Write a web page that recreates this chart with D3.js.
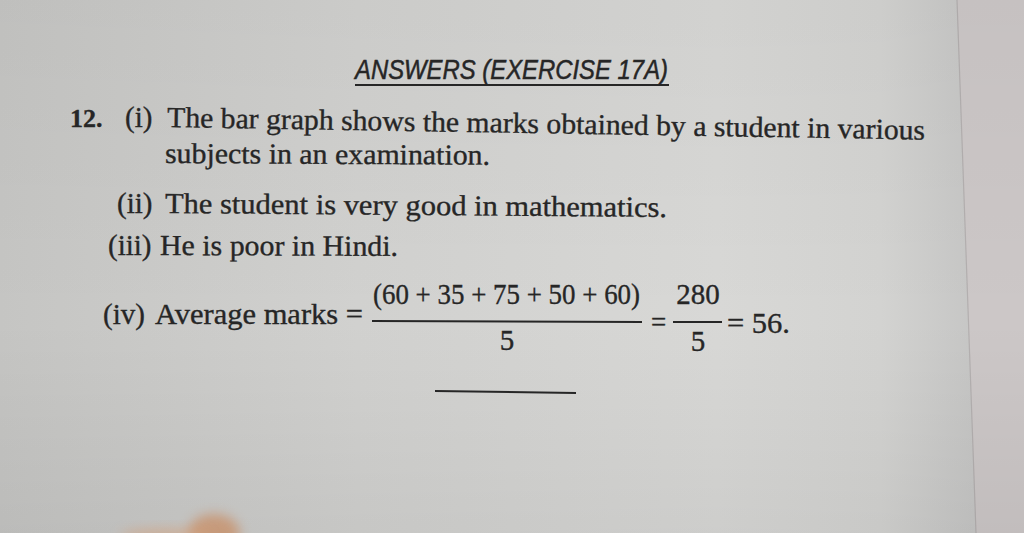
<!DOCTYPE html>
<html>
<head>
<meta charset="utf-8">
<script src="https://cdn.jsdelivr.net/npm/d3@7"></script>
<style>
  html, body { margin: 0; padding: 0; background: #d4d4d4; }
  svg { display: block; }
</style>
</head>
<body>
<div id="page"></div>
<script>
// values
const marks = [60, 35, 75, 50, 60]
const subjectCount = 5
const total = 280
const average = 56

const title = 'ANSWERS (EXERCISE 17A)'
const lines = [
  { label: '12.', sub: '(i)', text: 'The bar graph shows the marks obtained by a student in various' },
  { label: '', sub: '', text: 'subjects in an examination.' },
  { label: '', sub: '(ii)', text: 'The student is very good in mathematics.' },
  { label: '', sub: '(iii)', text: 'He is poor in Hindi.' }
]

const width = 1024
const height = 533
const ink = '#262626'
const serif = '"Liberation Serif", "DejaVu Serif", serif'

const svg = d3.select('#page').append('svg')
  .attr('width', width)
  .attr('height', height)

// paper shading: darker on the left, brighter in the middle, shadow near the fold
const defs = svg.append('defs')
const grad = defs.append('linearGradient').attr('id', 'paper')
grad.selectAll('stop')
  .data([
    { o: 0, c: '#c5c5c3' },
    { o: 0.35, c: '#d1d1cf' },
    { o: 0.7, c: '#d8d8d6' },
    { o: 0.86, c: '#d3d3d1' },
    { o: 0.95, c: '#c6c6c5' },
    { o: 1, c: '#c6c6c5' }
  ])
  .join('stop')
  .attr('offset', d => d.o)
  .attr('stop-color', d => d.c)
const vgrad = defs.append('linearGradient').attr('id', 'shade')
  .attr('x1', 0).attr('x2', 0).attr('y1', 0).attr('y2', 1)
vgrad.append('stop').attr('offset', 0).attr('stop-color', '#000').attr('stop-opacity', 0.03)
vgrad.append('stop').attr('offset', 0.6).attr('stop-color', '#000').attr('stop-opacity', 0)
vgrad.append('stop').attr('offset', 1).attr('stop-color', '#000').attr('stop-opacity', 0.05)
const blur = defs.append('filter').attr('id', 'blur')
  .attr('x', '-50%').attr('y', '-50%').attr('width', '200%').attr('height', '200%')
blur.append('feGaussianBlur').attr('stdDeviation', 6)

svg.append('rect').attr('width', width).attr('height', height).attr('fill', 'url(#paper)')

// the next sheet showing past the page edge on the right
svg.append('polygon')
  .attr('points', [[957, 0], [1024, 0], [1024, 533], [976, 533]].join(' '))
  .attr('fill', '#ccc7c7')
svg.append('line')
  .attr('x1', 957).attr('y1', 0).attr('x2', 976).attr('y2', 533)
  .attr('stroke', '#b3afaf').attr('stroke-width', 1.2)

svg.append('rect').attr('width', width).attr('height', height).attr('fill', 'url(#shade)')

// finger tip peeking in at the bottom
svg.append('ellipse')
  .attr('cx', 214).attr('cy', 534).attr('rx', 26).attr('ry', 20)
  .attr('fill', '#c8916a').attr('filter', 'url(#blur)').attr('opacity', 0.8)
svg.append('ellipse')
  .attr('cx', 165).attr('cy', 536).attr('rx', 45).attr('ry', 8)
  .attr('fill', '#d4a07c').attr('filter', 'url(#blur)').attr('opacity', 0.55)

// heading
svg.append('text')
  .attr('x', 355).attr('y', 79)
  .attr('font-family', '"Liberation Sans", Arial, sans-serif')
  .attr('font-style', 'italic')
  .attr('font-size', 27)
  .attr('fill', ink)
  .attr('stroke', ink).attr('stroke-width', 0.5)
  .attr('textLength', 313)
  .attr('lengthAdjust', 'spacingAndGlyphs')
  .text(title)
svg.append('line')
  .attr('x1', 355).attr('x2', 669).attr('y1', 85).attr('y2', 85)
  .attr('stroke', ink).attr('stroke-width', 2.2)

// body lines
const rows = [
  { y: 127, x: 167, w: 758, rot: 0.95, size: 29 },
  { y: 163, x: 165, w: 325, rot: 0.3, size: 29 },
  { y: 213, x: 165, w: 502, rot: 0.45, size: 29 },
  { y: 255, x: 160, w: 238, rot: 0.2, size: 29 }
]
const labelPos = [
  { lx: 70, sx: 125 },
  { lx: 0, sx: 0 },
  { lx: 0, sx: 117 },
  { lx: 0, sx: 108 }
]

const g = svg.append('g')
  .attr('fill', ink)
  .attr('stroke', ink).attr('stroke-width', 0.35)
  .attr('font-family', serif)

lines.forEach((line, i) => {
  const r = rows[i]
  const p = labelPos[i]
  if (line.label) {
    g.append('text')
      .attr('x', p.lx).attr('y', r.y)
      .attr('font-size', 26).attr('font-weight', 'bold')
      .text(line.label)
  }
  if (line.sub) {
    g.append('text')
      .attr('x', p.sx).attr('y', r.y)
      .attr('font-size', r.size)
      .text(line.sub)
  }
  g.append('text')
    .attr('x', r.x).attr('y', r.y)
    .attr('font-size', r.size)
    .attr('transform', `rotate(${r.rot}, ${r.x}, ${r.y})`)
    .attr('textLength', r.w)
    .attr('lengthAdjust', 'spacingAndGlyphs')
    .text(line.text)
})

// (iv) average line with the fraction
const fy = 324
g.append('text').attr('x', 103).attr('y', fy).attr('font-size', 29)
  .text('(iv)')
g.append('text').attr('x', 155).attr('y', fy).attr('font-size', 29)
  .attr('textLength', 208).attr('lengthAdjust', 'spacingAndGlyphs')
  .text('Average marks =')

const numX = d3.scaleLinear().domain([0, 1]).range([373, 640])
g.append('text')
  .attr('x', numX(0)).attr('y', 304).attr('font-size', 29)
  .attr('textLength', numX(1) - numX(0)).attr('lengthAdjust', 'spacingAndGlyphs')
  .text('(' + marks.join(' + ') + ')')
g.append('line')
  .attr('x1', 372).attr('x2', 642).attr('y1', 321).attr('y2', 322)
  .attr('stroke', ink).attr('stroke-width', 1.8)
g.append('text')
  .attr('x', 507).attr('y', 350).attr('font-size', 29)
  .attr('text-anchor', 'middle')
  .text(subjectCount)

g.append('text').attr('x', 651).attr('y', 331).attr('font-size', 27).text('=')
g.append('text')
  .attr('x', 698).attr('y', 304).attr('font-size', 29).attr('text-anchor', 'middle')
  .text(total)
g.append('line')
  .attr('x1', 673).attr('x2', 722).attr('y1', 322).attr('y2', 322)
  .attr('stroke', ink).attr('stroke-width', 1.8)
g.append('text')
  .attr('x', 698).attr('y', 351).attr('font-size', 29).attr('text-anchor', 'middle')
  .text(subjectCount)
g.append('text').attr('x', 727).attr('y', 333).attr('font-size', 29)
  .attr('textLength', 63).attr('lengthAdjust', 'spacingAndGlyphs')
  .text('= ' + average + '.')

// closing rule
svg.append('line')
  .attr('x1', 435).attr('x2', 576).attr('y1', 391).attr('y2', 393)
  .attr('stroke', ink).attr('stroke-width', 2)
</script>
</body>
</html>
